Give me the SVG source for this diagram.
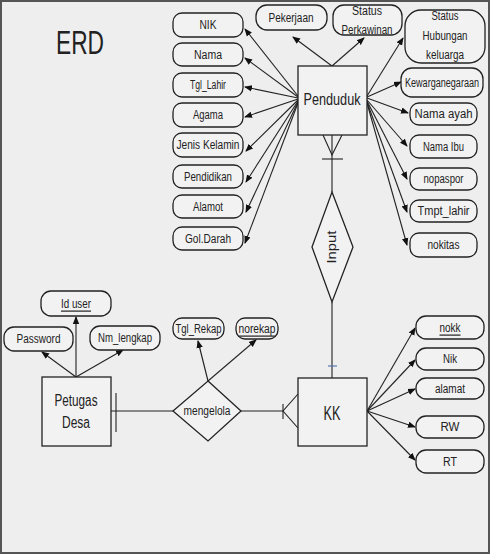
<svg xmlns="http://www.w3.org/2000/svg" width="490" height="554" viewBox="0 0 490 554">
<style>
text{font-family:"Liberation Sans",Arial,sans-serif;fill:#222;text-anchor:middle;dominant-baseline:central}
.a{fill:#f2f2f2;stroke:#222;stroke-width:1.3}
.e{fill:#f2f2f2;stroke:#222;stroke-width:1.3}
.t{font-size:12px}
.c line,.c polyline{stroke:#222;stroke-width:1.1;fill:none}
.ar{marker-end:url(#ah)}
</style>
<defs>
<marker id="ah" markerUnits="userSpaceOnUse" markerWidth="8" markerHeight="8" viewBox="0 0 8 8" refX="7" refY="4" orient="auto">
<path d="M0,0.8 L8,4 L0,7.2 z" fill="#111"/>
</marker>
</defs>
<rect x="1" y="1" width="488" height="552" fill="#eeeeee" stroke="#555" stroke-width="2"/>
<text x="80" y="42" style="font-size:34px" textLength="48" lengthAdjust="spacingAndGlyphs">ERD</text>

<g class="c" id="connectors">
<line class="ar" x1="298" y1="96" x2="245" y2="29"/>
<line class="ar" x1="298" y1="97" x2="245" y2="58"/>
<line class="ar" x1="298" y1="98" x2="245" y2="87"/>
<line class="ar" x1="298" y1="99" x2="245" y2="117"/>
<line class="ar" x1="298" y1="100" x2="246" y2="151"/>
<line class="ar" x1="298" y1="101" x2="246" y2="182"/>
<line class="ar" x1="298" y1="102" x2="246" y2="212"/>
<line class="ar" x1="298" y1="103" x2="245" y2="243"/>
<line class="ar" x1="332" y1="66" x2="293" y2="37"/>
<line class="ar" x1="332" y1="66" x2="364" y2="38"/>
<line class="ar" x1="367" y1="96" x2="403" y2="38"/>
<line class="ar" x1="367" y1="97" x2="401" y2="82"/>
<line class="ar" x1="367" y1="98" x2="408" y2="113"/>
<line class="ar" x1="367" y1="100" x2="407" y2="146"/>
<line class="ar" x1="367" y1="101" x2="407" y2="179"/>
<line class="ar" x1="367" y1="102" x2="407" y2="212"/>
<line class="ar" x1="367" y1="103" x2="407" y2="245"/>
<line x1="332" y1="135" x2="332" y2="192"/>
<polyline points="323,135 332,155 342,135"/>
<line x1="322" y1="159" x2="343" y2="159"/>
<line x1="332" y1="302" x2="332" y2="378"/>
<line x1="328" y1="366" x2="337" y2="366" style="stroke:#4a6fb0"/>
<line x1="111" y1="411" x2="173" y2="411"/>
<line x1="116" y1="393" x2="116" y2="432"/>
<line x1="241" y1="411" x2="283" y2="411"/>
<line x1="283" y1="404" x2="283" y2="419"/>
<polyline points="298,394 283,411 298,428"/>
<line class="ar" x1="76" y1="377" x2="42" y2="352"/>
<line class="ar" x1="76" y1="377" x2="76" y2="317"/>
<line class="ar" x1="76" y1="377" x2="123" y2="350"/>
<line class="ar" x1="208" y1="381" x2="198" y2="341"/>
<line class="ar" x1="208" y1="381" x2="256" y2="340"/>
<line class="ar" x1="367" y1="411" x2="415" y2="328"/>
<line class="ar" x1="367" y1="411" x2="415" y2="360"/>
<line class="ar" x1="367" y1="411" x2="415" y2="389"/>
<line class="ar" x1="367" y1="411" x2="415" y2="427"/>
<line class="ar" x1="367" y1="411" x2="415" y2="460"/>
</g>

<g id="penduduk"><rect class="e" x="298" y="66" width="69" height="69"/><text x="332" y="99" style="font-size:17px" textLength="57" lengthAdjust="spacingAndGlyphs">Penduduk</text></g>
<g id="kk"><rect class="e" x="298" y="378" width="69" height="68"/><text x="332" y="412" style="font-size:21px" textLength="17" lengthAdjust="spacingAndGlyphs">KK</text></g>
<g id="petugas"><rect class="e" x="42" y="377" width="69" height="69"/><text x="76" y="400" style="font-size:16px" textLength="43" lengthAdjust="spacingAndGlyphs">Petugas</text><text x="76" y="422" style="font-size:16px" textLength="28" lengthAdjust="spacingAndGlyphs">Desa</text></g>
<g id="input"><polygon class="e" points="332,192 353,247 332,302 312,247"/><text transform="translate(332,247) rotate(-90)" class="t" textLength="33" lengthAdjust="spacingAndGlyphs">Input</text></g>
<g id="mengelola"><polygon class="e" points="208,381 241,411 208,441 173,411"/><text x="207" y="411" class="t" textLength="47" lengthAdjust="spacingAndGlyphs">mengelola</text></g>

<g id="nik"><rect class="a" x="173" y="13" width="70" height="24" rx="9"/><text x="208" y="25" class="t" textLength="17" lengthAdjust="spacingAndGlyphs">NIK</text></g>
<g id="nama"><rect class="a" x="173" y="43" width="70" height="23" rx="9"/><text x="208" y="54.5" class="t" textLength="28" lengthAdjust="spacingAndGlyphs">Nama</text></g>
<g id="tgl_lahir"><rect class="a" x="173" y="73" width="70" height="24" rx="9"/><text x="208" y="85" class="t" textLength="36" lengthAdjust="spacingAndGlyphs">Tgl_Lahir</text></g>
<g id="agama"><rect class="a" x="173" y="103" width="70" height="24" rx="9"/><text x="208" y="115" class="t" textLength="30" lengthAdjust="spacingAndGlyphs">Agama</text></g>
<g id="jenis_kelamin"><rect class="a" x="173" y="133" width="70" height="24" rx="9"/><text x="208" y="145" class="t" textLength="63" lengthAdjust="spacingAndGlyphs">Jenis Kelamin</text></g>
<g id="pendidikan"><rect class="a" x="173" y="165" width="70" height="23" rx="9"/><text x="208" y="176.5" class="t" textLength="48" lengthAdjust="spacingAndGlyphs">Pendidikan</text></g>
<g id="alamot"><rect class="a" x="173" y="195" width="70" height="23" rx="9"/><text x="208" y="206.5" class="t" textLength="30" lengthAdjust="spacingAndGlyphs">Alamot</text></g>
<g id="gol_darah"><rect class="a" x="173" y="227" width="70" height="23" rx="9"/><text x="208" y="238.5" class="t" textLength="46" lengthAdjust="spacingAndGlyphs">Gol.Darah</text></g>

<g id="pekerjaan"><rect class="a" x="256" y="5" width="71" height="25" rx="11"/><text x="291" y="17.5" class="t" textLength="45" lengthAdjust="spacingAndGlyphs">Pekerjaan</text></g>
<g id="status_perkawinan"><rect class="a" x="333" y="5" width="69" height="30" rx="11"/><text x="367" y="11" class="t" textLength="30" lengthAdjust="spacingAndGlyphs">Status</text><text x="367" y="30" class="t" textLength="51" lengthAdjust="spacingAndGlyphs">Perkawinan</text></g>
<g id="status_hubungan"><rect class="a" x="405" y="10" width="80" height="53" rx="16"/><text x="445" y="16" class="t" textLength="27" lengthAdjust="spacingAndGlyphs">Status</text><text x="445" y="36" class="t" textLength="45" lengthAdjust="spacingAndGlyphs">Hubungan</text><text x="445" y="55" class="t" textLength="38" lengthAdjust="spacingAndGlyphs">keluarga</text></g>

<g id="kewarganegaraan"><rect class="a" x="401" y="68" width="82" height="29" rx="11"/><text x="442" y="82.5" class="t" textLength="74" lengthAdjust="spacingAndGlyphs">Kewarganegaraan</text></g>
<g id="nama_ayah"><rect class="a" x="410" y="103" width="67" height="22" rx="9"/><text x="443.5" y="114" class="t" textLength="58" lengthAdjust="spacingAndGlyphs">Nama ayah</text></g>
<g id="nama_ibu"><rect class="a" x="410" y="135" width="67" height="23" rx="9"/><text x="443.5" y="146.5" class="t" textLength="41" lengthAdjust="spacingAndGlyphs">Nama Ibu</text></g>
<g id="nopaspor"><rect class="a" x="410" y="168" width="67" height="22" rx="9"/><text x="443.5" y="179" class="t" textLength="40" lengthAdjust="spacingAndGlyphs">nopaspor</text></g>
<g id="tmpt_lahir"><rect class="a" x="410" y="200" width="67" height="22" rx="9"/><text x="443.5" y="211" class="t" textLength="52" lengthAdjust="spacingAndGlyphs">Tmpt_lahir</text></g>
<g id="nokitas"><rect class="a" x="410" y="233" width="67" height="24" rx="9"/><text x="443.5" y="245" class="t" textLength="32" lengthAdjust="spacingAndGlyphs">nokitas</text></g>

<g id="id_user"><rect class="a" x="41" y="291" width="70" height="25" rx="10"/><text x="76" y="303.5" class="t" text-decoration="underline" textLength="30" lengthAdjust="spacingAndGlyphs">Id user</text></g>
<g id="password"><rect class="a" x="4" y="327" width="69" height="24" rx="10"/><text x="38.5" y="339" class="t" textLength="44" lengthAdjust="spacingAndGlyphs">Password</text></g>
<g id="nm_lengkap"><rect class="a" x="90" y="326" width="70" height="24" rx="10"/><text x="125" y="338" class="t" textLength="54" lengthAdjust="spacingAndGlyphs">Nm_lengkap</text></g>
<g id="tgl_rekap"><rect class="a" x="173" y="318" width="51" height="21" rx="9"/><text x="198.5" y="328.5" class="t" textLength="46" lengthAdjust="spacingAndGlyphs">Tgl_Rekap</text></g>
<g id="norekap"><rect class="a" x="236" y="318" width="42" height="21" rx="9"/><text x="257" y="328.5" class="t" text-decoration="underline" textLength="37" lengthAdjust="spacingAndGlyphs">norekap</text></g>

<g id="nokk"><rect class="a" x="416" y="316" width="68" height="23" rx="10"/><text x="450" y="327.5" class="t" text-decoration="underline" textLength="21" lengthAdjust="spacingAndGlyphs">nokk</text></g>
<g id="nik_kk"><rect class="a" x="416" y="348" width="68" height="22" rx="10"/><text x="450" y="359" class="t" textLength="14" lengthAdjust="spacingAndGlyphs">Nik</text></g>
<g id="alamat"><rect class="a" x="416" y="378" width="68" height="21" rx="10"/><text x="450" y="388.5" class="t" textLength="30" lengthAdjust="spacingAndGlyphs">alamat</text></g>
<g id="rw"><rect class="a" x="416" y="416" width="68" height="22" rx="10"/><text x="450" y="427" class="t" textLength="19" lengthAdjust="spacingAndGlyphs">RW</text></g>
<g id="rt"><rect class="a" x="416" y="450" width="68" height="23" rx="10"/><text x="450" y="461.5" class="t" textLength="14" lengthAdjust="spacingAndGlyphs">RT</text></g>
</svg>
